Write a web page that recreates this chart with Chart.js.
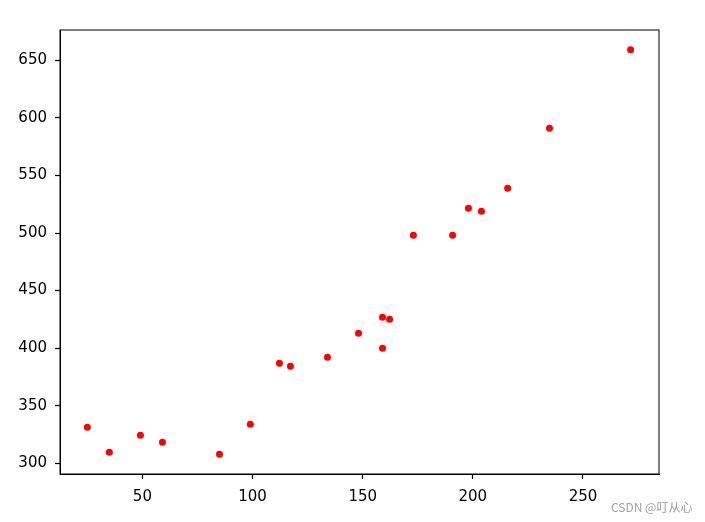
<!DOCTYPE html>
<html>
<head>
<meta charset="utf-8">
<script src="https://cdn.jsdelivr.net/npm/chart.js@4"></script>
<style>
  html, body { margin: 0; padding: 0; background: #fff; }
  #wrap { width: 705px; height: 522px; position: relative; }
</style>
</head>
<body>
<div id="wrap"><canvas id="grafico" width="705" height="522"></canvas></div>
<script>
// dados
const xVals = [25.0, 35.0, 49.1, 59.1, 85.0, 99.0, 112.2, 117.2, 134.0, 148.1, 159.0, 162.2, 159.0, 173.0, 190.8, 198.0, 203.9, 215.8, 234.8, 271.6];
const yVals = [331.3, 309.6, 324.3, 318.2, 307.8, 333.9, 386.9, 384.2, 392.1, 412.9, 426.8, 425.1, 399.9, 498.0, 498.0, 521.5, 518.9, 538.8, 591.0, 659.2];
const xTicks = [50, 100, 150, 200, 250];
const yTicks = [300, 350, 400, 450, 500, 550, 600, 650];
const marca = 'CSDN @叮从心';

const pontos = xVals.map((x, i) => ({ x: x, y: yVals[i] }));

// moldura (spines) e marca d'agua
const moldura = {
  id: 'moldura',
  afterDraw(chart) {
    const { ctx, chartArea: a } = chart;
    ctx.save();
    ctx.strokeStyle = '#000';
    ctx.lineWidth = 1;
    ctx.strokeRect(a.left, a.top, a.right - a.left, a.bottom - a.top);
    ctx.fillStyle = '#a0a0a0';
    ctx.font = '12px "Noto Sans CJK SC", "DejaVu Sans", sans-serif';
    ctx.textBaseline = 'middle';
    ctx.fillText(marca, 611, 507);
    ctx.restore();
  }
};

const fonte = { family: '"DejaVu Sans", sans-serif', size: 15 };

new Chart(document.getElementById('grafico').getContext('2d'), {
  type: 'scatter',
  data: {
    datasets: [{
      data: pontos,
      backgroundColor: '#ff0000',
      borderWidth: 0,
      pointRadius: 3.5,
      pointHoverRadius: 3.5
    }]
  },
  options: {
    responsive: false,
    animation: false,
    events: [],
    layout: { padding: { left: 0, top: 30, right: 46, bottom: 0 } },
    plugins: { legend: { display: false }, tooltip: { enabled: false } },
    scales: {
      x: {
        type: 'linear',
        min: 12.6,
        max: 284.5,
        afterBuildTicks: s => { s.ticks = xTicks.map(v => ({ value: v })); },
        afterFit: s => { s.height = 48; },
        border: { display: true, color: '#000', width: 1 },
        grid: { drawOnChartArea: false, drawTicks: true, tickLength: 5, tickWidth: 1.2, color: '#000' },
        ticks: { color: '#000', font: fonte, padding: 9, maxRotation: 0 }
      },
      y: {
        type: 'linear',
        min: 290.7,
        max: 676.3,
        afterBuildTicks: s => { s.ticks = yTicks.map(v => ({ value: v })); },
        afterFit: s => { s.width = 60; },
        border: { display: true, color: '#000', width: 1 },
        grid: { drawOnChartArea: false, drawTicks: true, tickLength: 5, tickWidth: 1.2, color: '#000' },
        ticks: { color: '#000', font: fonte, padding: 8 }
      }
    }
  },
  plugins: [moldura]
});
</script>
</body>
</html>
